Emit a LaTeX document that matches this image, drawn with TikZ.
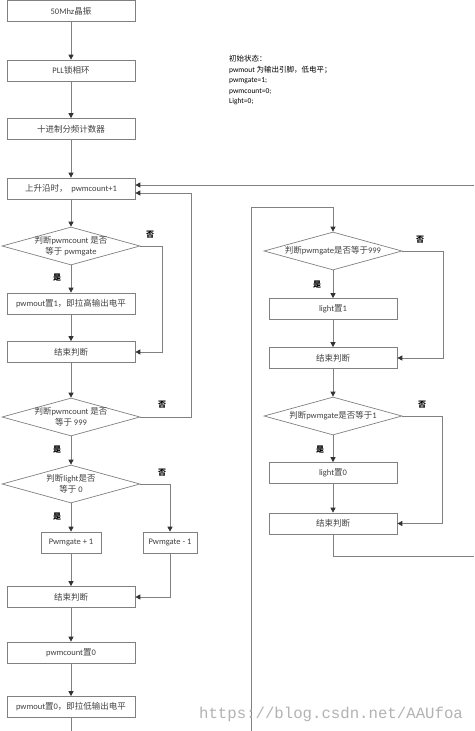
\documentclass[tikz,border=0pt]{standalone}
\usepackage{fontspec}
\setmainfont{Carlito}
\newfontfamily\cjk{Noto Sans CJK SC}
\newfontfamily\wmfont{Liberation Mono}
\usepackage{tikz}
\usetikzlibrary{positioning,arrows.meta,shapes.geometric,calc}
\newcommand{\zh}[1]{{\cjk #1}}

\begin{document}
\begin{tikzpicture}[x=1pt, y=-1pt,
  line/.style={draw=black!50, line width=0.8pt},
  arr/.style={line, -{Triangle[length=5pt,width=5pt,color=black!80]}},
  box/.style={draw=black!50, line width=0.7pt, minimum width=128pt, minimum height=21pt,
    inner sep=0pt, font=\fontsize{8.5}{10}\selectfont, text=black!75},
  dia/.style={draw=black!50, line width=0.7pt, shape=diamond, minimum width=138pt,
    minimum height=38pt, inner sep=0pt},
  dtxt/.style={font=\fontsize{8.5}{10.5}\selectfont, align=center, text=black!75, inner sep=0pt},
  yn/.style={font=\fontsize{8}{8}\selectfont\cjk\bfseries, inner sep=0pt}]
\useasboundingbox (0,0) rectangle (474,731);
% left column: x = 71
\node[box] (osc)  at (71,11)    {50Mhz\zh{晶振}};
\node[box] (pll)  at (71,70.5)  {PLL\zh{锁相环}};
\node[box] (cnt)  at (71,129)   {\zh{十进制分频计数器}};
\node[box] (rise) at (71,188.5) {\zh{上升沿时，}\ \ pwmcount+1};
\node[dia] (qgate) at (71,246) {};
\node[dtxt] (tgate) at (qgate) {\zh{判断}pwmcount \zh{是否}\\\zh{等于} pwmgate};
\node[box] (high) at (71,303.5) {pwmout\zh{置}1\zh{，即拉高输出电平}};
\node[box] (endA) at (71,352)   {\zh{结束判断}};
\node[dia] (qfull) at (71,417) {};
\node[dtxt] (tfull) at (qfull) {\zh{判断}pwmcount \zh{是否}\\\zh{等于} 999};
\node[dia] (qlight) at (71,484) {};
\node[dtxt] (tlight) at (qlight) {\zh{判断}light\zh{是否}\\\zh{等于} 0};
\node[box, minimum width=60pt] (inc) at (71,542.5)  {Pwmgate + 1};
\node[box, minimum width=54pt] (dec) at (170,542.5) {Pwmgate - 1};
\node[box] (endB) at (71,597)   {\zh{结束判断}};
\node[box] (clr)  at (71,652.5) {pwmcount\zh{置}0};
\node[box] (low)  at (71,707)   {pwmout\zh{置}0\zh{，即拉低输出电平}};
% right column: x = 333
\node[dia] (qmax) at (333,251) {};
\node[dtxt] (tmax) at (qmax) {\zh{判断}pwmgate\zh{是否等于}999};
\node[box] (lon)  at (333,309)   {light\zh{置}1};
\node[box] (endC) at (333,358)   {\zh{结束判断}};
\node[dia] (qmin) at (333,416) {};
\node[dtxt] (tmin) at (qmin) {\zh{判断}pwmgate\zh{是否等于}1};
\node[box] (loff) at (333,473)   {light\zh{置}0};
\node[box] (endD) at (333,523.5) {\zh{结束判断}};
% initial state
\node[anchor=north west, align=left, inner sep=0pt, font=\fontsize{7.5}{10.5}\selectfont]
  (init) at (229,55) {\zh{初始状态：}\\pwmout \zh{为输出引脚，低电平；}\\pwmgate=1;\\pwmcount=0;\\Light=0;};
% free ends
\coordinate (lbot)   at (71,731);
\coordinate (rbot)   at (251,731);
\coordinate (rturn)  at (251,207);
\coordinate (redgeA) at (474,185);
\coordinate (redgeB) at (474,556);
% main flow
\draw[arr] (osc) -- (pll);
\draw[arr] (pll) -- (cnt);
\draw[arr] (cnt) -- (rise);
\draw[arr] (rise) -- (qgate);
\draw[arr] (qgate) -- (high);
\draw[arr] (high) -- (endA);
\draw[arr] (endA) -- (qfull);
\draw[arr] (qfull) -- (qlight);
\draw[arr] (qlight) -- (inc);
\draw[arr] (inc) -- (endB);
\draw[arr] (endB) -- (clr);
\draw[arr] (clr) -- (low);
\draw[line] (low) -- (lbot);
% no branches
\draw[arr] (qgate.east) -- ++(22,0) |- (endA.east);
\draw[arr] (qfull.east) -- ++(51,0) |- ($(rise.east)+(0,4.5)$);
\draw[arr] (qlight.east) -| (dec.north);
\draw[arr] (dec.south) |- (endB.east);
\draw[arr] (redgeA) -- ($(rise.east)+(0,-3.5)$);
% right column flow
\draw[arr] (rbot) -- (rturn) -| (qmax.north);
\draw[arr] (qmax) -- (lon);
\draw[arr] (lon) -- (endC);
\draw[arr] (endC) -- (qmin);
\draw[arr] (qmin) -- (loff);
\draw[arr] (loff) -- (endD);
\draw[arr] (qmax.east) -- ++(41,0) |- (endC.east);
\draw[arr] (qmin.east) -- ++(40,0) |- (endD.east);
\draw[line] (endD.south) |- (redgeB);
% yes / no labels
\foreach \x/\y/\t in {57/278/是, 57/450/是, 57/517/是, 317/285/是, 320/450/是,
  150/235/否, 162/405/否, 162/473/否, 420/240/否, 422/405/否}
  \node[yn] at (\x,\y) {\t};
% watermark
\node[font=\fontsize{15.7}{15.7}\wmfont, text=black!30, inner sep=0pt] (wm) at (331,714)
  {https://blog.csdn.net/AAUfoa};
\end{tikzpicture}
\end{document}
